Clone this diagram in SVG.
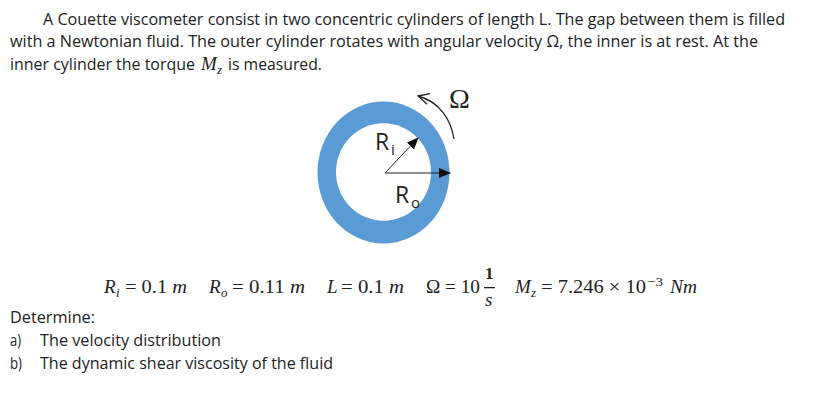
<svg xmlns="http://www.w3.org/2000/svg" width="823" height="405" viewBox="0 0 823 405">
<style>
.t{font-family:"Open Sans","Liberation Sans",sans-serif;font-size:16px;fill:#222}
.m{font-family:"Liberation Serif",serif;font-size:19px;fill:#222}
.i{font-style:italic}
.l{font-family:"Open Sans","Liberation Sans",sans-serif;font-size:23px;fill:#222}
.a{stroke:#222;fill:none}
.s{font-size:13px}
.n{font-size:15px}
.u{font-size:17px;font-weight:bold}
</style>
<defs>
<marker id="h" markerUnits="userSpaceOnUse" markerWidth="12" markerHeight="10" refX="11" refY="5" orient="auto"><path d="M0 0L12 5L0 10Z" fill="#111"/></marker>
<marker id="o" markerUnits="userSpaceOnUse" markerWidth="13" markerHeight="12" refX="12" refY="6" orient="auto"><path d="M1 0.5L12 6L1 11.5" fill="none" stroke="#222" stroke-width="1.3"/></marker>
</defs>
<rect width="823" height="405" fill="#fff"/>
<g id="statement">
<text class="t" x="43" y="25" textLength="742" lengthAdjust="spacingAndGlyphs">A Couette viscometer consist in two concentric cylinders of length L. The gap between them is filled</text>
<text class="t" x="10" y="47" textLength="748" lengthAdjust="spacingAndGlyphs">with a Newtonian fluid. The outer cylinder rotates with angular velocity Ω, the inner is at rest. At the</text>
<text class="t" x="10" y="70" textLength="185" lengthAdjust="spacingAndGlyphs">inner cylinder the torque</text>
<text class="m i" x="201" y="70">M</text><text class="m i s" x="217" y="74">z</text>
<text class="t" x="228" y="70" textLength="94" lengthAdjust="spacingAndGlyphs">is measured.</text>
</g>
<g id="cylinders">
<ellipse cx="383.5" cy="172.5" rx="66" ry="71" fill="#5B9BD5"/>
<ellipse cx="383.5" cy="172" rx="47.5" ry="48.7" fill="#fff"/>
</g>
<g id="connectors">
<path class="a" stroke-width="1" d="M385 173L418 138" marker-end="url(#h)"/>
<path class="a" stroke-width="1" d="M385 173L450 173" marker-end="url(#h)"/>
<path class="a" stroke-width="1.3" d="M454 139C451 120 440 102 418 96" marker-end="url(#o)"/>
</g>
<g id="labels">
<text class="l" x="375" y="150">R</text><text class="t n" x="391" y="155">i</text>
<text class="l" x="395" y="203">R</text><text class="t n" x="411" y="208">o</text>
<text x="449" y="108" font-family="Liberation Serif,serif" font-size="28" fill="#222">Ω</text>
</g>
<g id="values">
<text class="m i" x="104" y="293">R</text><text class="m i s" x="116" y="297">i</text>
<text class="m" x="125" y="293" textLength="62" lengthAdjust="spacingAndGlyphs">= 0.1 <tspan class="i">m</tspan></text>
<text class="m i" x="209" y="293">R</text><text class="m i s" x="221" y="297">o</text>
<text class="m" x="232" y="293" textLength="73" lengthAdjust="spacingAndGlyphs">= 0.11 <tspan class="i">m</tspan></text>
<text class="m i" x="327" y="293">L</text>
<text class="m" x="341" y="293" textLength="63" lengthAdjust="spacingAndGlyphs">= 0.1 <tspan class="i">m</tspan></text>
<text class="m" x="426" y="293" textLength="54" lengthAdjust="spacingAndGlyphs">Ω = 10</text>
<text class="m u" x="485" y="279">1</text>
<rect x="484" y="287" width="11" height="1.3" fill="#222"/>
<text class="m i" x="485" y="306">s</text>
<text class="m i" x="515" y="293">M</text><text class="m i s" x="531" y="297">z</text>
<text class="m" x="541" y="293" textLength="105" lengthAdjust="spacingAndGlyphs">= 7.246 × 10</text>
<text class="m s" x="647" y="286" textLength="16" lengthAdjust="spacingAndGlyphs">−3</text>
<text class="m i" x="670" y="293" textLength="27" lengthAdjust="spacingAndGlyphs">Nm</text>
</g>
<g id="questions">
<text class="t" x="10" y="323" textLength="85" lengthAdjust="spacingAndGlyphs">Determine:</text>
<text class="t" x="10" y="346" textLength="11" lengthAdjust="spacingAndGlyphs">a)</text>
<text class="t" x="40" y="346" textLength="181" lengthAdjust="spacingAndGlyphs">The velocity distribution</text>
<text class="t" x="10" y="369" textLength="12" lengthAdjust="spacingAndGlyphs">b)</text>
<text class="t" x="40" y="369" textLength="293" lengthAdjust="spacingAndGlyphs">The dynamic shear viscosity of the fluid</text>
</g>
</svg>
